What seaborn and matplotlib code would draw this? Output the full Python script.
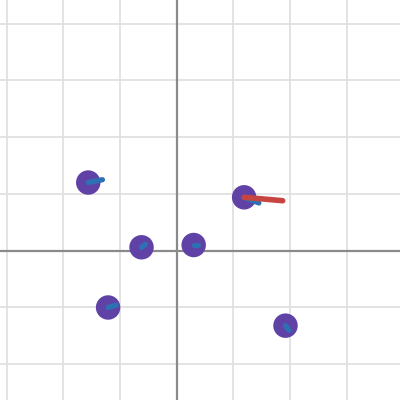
import numpy as np
import pandas as pd
import seaborn as sns
import matplotlib.pyplot as plt

# particle positions
pos_x = [-1.56, 1.19, -0.62, 0.30, -1.21, 1.92]
pos_y = [1.20, 0.94, 0.06, 0.10, -1.00, -1.32]

# blue segment end points (one per particle)
vel_end_x = [-1.31, 1.45, -0.55, 0.38, -1.07, 1.98]
vel_end_y = [1.25, 0.84, 0.11, 0.10, -0.96, -1.40]

# red segment (only on the second particle)
red_start = (1.19, 0.94)
red_end = (1.87, 0.88)

df = pd.DataFrame({"x": pos_x, "y": pos_y})

sns.set_style("white")
fig = plt.figure(figsize=(4, 4), dpi=100)
ax = fig.add_axes([0, 0, 1, 1])

# grid at integer positions
for gx in range(-3, 4):
    ax.axvline(gx, color="#e0e0e0", lw=1.3, zorder=0)
for gy in range(-2, 5):
    ax.axhline(gy, color="#e0e0e0", lw=1.3, zorder=0)
ax.axvline(0, color="#8a8a8a", lw=1.6, zorder=1)
ax.axhline(0, color="#8a8a8a", lw=1.6, zorder=1)

sns.scatterplot(data=df, x="x", y="y", ax=ax, s=310, color="#6042a6",
                edgecolor="none", zorder=3, legend=False)

for x0, y0, x1, y1 in zip(pos_x, pos_y, vel_end_x, vel_end_y):
    ax.plot([x0, x1], [y0, y1], color="#2d70b3", lw=3.8,
            solid_capstyle="round", zorder=4)

ax.plot([red_start[0], red_end[0]], [red_start[1], red_end[1]],
        color="#c74440", lw=4, solid_capstyle="round", zorder=5)

ax.set_xlim(-3.117, 3.94)
ax.set_ylim(-2.629, 4.414)
ax.set_xticks([])
ax.set_yticks([])
ax.set_xlabel("")
ax.set_ylabel("")
for s in ax.spines.values():
    s.set_visible(False)

fig.savefig("out.png", dpi=100)
